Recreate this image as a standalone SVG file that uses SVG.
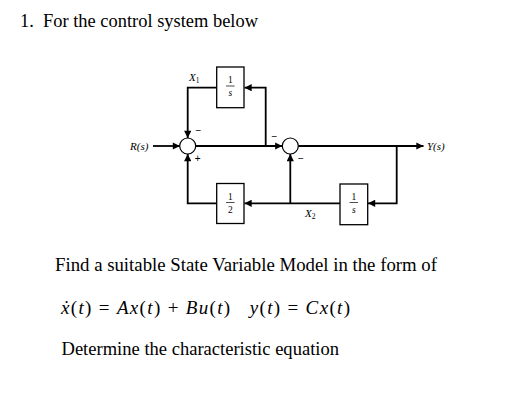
<svg xmlns="http://www.w3.org/2000/svg" width="514" height="404" viewBox="0 0 514 404">
<style>
.txt{font-family:"Liberation Serif","Times New Roman",serif;fill:#000}
.t{font-size:18.6px}
.lbl{font-size:11px;font-style:italic}
.frac{font-size:9.5px;text-anchor:middle}
.blk{fill:#fff;stroke:#000;stroke-width:1.3}
.sum{fill:#fff;stroke:#000;stroke-width:1.2}
.w{fill:none;stroke:#000;stroke-width:1.8}
.sg{font-family:"Liberation Sans",Arial,sans-serif;font-size:10px;fill:#000;text-anchor:middle}
</style>
<defs>
<marker id="ah" viewBox="0 0 10 10" refX="10" refY="5" markerWidth="4.4" markerHeight="4" orient="auto" markerUnits="strokeWidth">
<path d="M0,0 L10,5 L0,10 z" fill="#000"/>
</marker>
</defs>
<rect width="514" height="404" fill="#fff"/>
<text class="txt t" x="20" y="26.5" xml:space="preserve" textLength="238" lengthAdjust="spacingAndGlyphs">1.  For the control system below</text>

<g id="connectors">
<path class="w" d="M153,146 H180" marker-end="url(#ah)"/>
<path class="w" d="M195.7,146 H282.3" marker-end="url(#ah)"/>
<path class="w" d="M265.7,146 V87.7 H244.5" marker-end="url(#ah)"/>
<path class="w" d="M216.7,87.7 H187.7 V138" marker-end="url(#ah)"/>
<path class="w" d="M298.3,146 H423.5" marker-end="url(#ah)"/>
<path class="w" d="M396.7,146 V203.3 H368" marker-end="url(#ah)"/>
<path class="w" d="M340,203.3 H244.5" marker-end="url(#ah)"/>
<path class="w" d="M290.3,203.3 V154" marker-end="url(#ah)"/>
<path class="w" d="M216.7,203.3 H187.7 V154" marker-end="url(#ah)"/>
</g>

<g id="sum1">
<circle class="sum" cx="187.7" cy="146" r="8"/>
<text class="sg" x="198.5" y="134">−</text>
<text class="sg" x="197.7" y="162">+</text>
</g>
<g id="sum2">
<circle class="sum" cx="290.3" cy="146" r="8"/>
<text class="sg" x="274.5" y="140">−</text>
<text class="sg" x="301" y="162">−</text>
</g>

<g id="int1">
<rect class="blk" x="216.7" y="67" width="27.3" height="40.7"/>
<text class="txt frac" x="230.3" y="83">1</text>
<line x1="226" y1="86" x2="234.6" y2="86" stroke="#000" stroke-width="0.7"/>
<text class="txt frac" x="230.3" y="96" font-style="italic">s</text>
</g>
<g id="gain">
<rect class="blk" x="216.7" y="183.5" width="27.3" height="40"/>
<text class="txt frac" x="230.3" y="199.5">1</text>
<line x1="226" y1="202.5" x2="234.6" y2="202.5" stroke="#000" stroke-width="0.7"/>
<text class="txt frac" x="230.3" y="213">2</text>
</g>
<g id="int2">
<rect class="blk" x="340" y="184" width="27.7" height="40.7"/>
<text class="txt frac" x="353.8" y="199.5">1</text>
<line x1="349.5" y1="202.5" x2="358" y2="202.5" stroke="#000" stroke-width="0.7"/>
<text class="txt frac" x="353.8" y="213" font-style="italic">s</text>
</g>

<g id="labels">
<text class="txt lbl" x="130" y="149.8">R(s)</text>
<text class="txt lbl" x="427" y="149.8">Y(s)</text>
<text class="txt lbl" x="189" y="81">X<tspan font-size="7.5" dy="2" font-style="normal">1</tspan></text>
<text class="txt lbl" x="305" y="216.5">X<tspan font-size="7.5" dy="2" font-style="normal">2</tspan></text>
</g>

<text class="txt t" x="55" y="270.5" textLength="382" lengthAdjust="spacingAndGlyphs">Find a suitable State Variable Model in the form of</text>
<text class="txt" font-size="19" x="61" y="313.5" xml:space="preserve" textLength="289" lengthAdjust="spacing"><tspan font-style="italic">ẋ</tspan>(<tspan font-style="italic">t</tspan>) = <tspan font-style="italic">Ax</tspan>(<tspan font-style="italic">t</tspan>) + <tspan font-style="italic">Bu</tspan>(<tspan font-style="italic">t</tspan>)   <tspan font-style="italic">y</tspan>(<tspan font-style="italic">t</tspan>) = <tspan font-style="italic">Cx</tspan>(<tspan font-style="italic">t</tspan>)</text>
<text class="txt t" x="61.5" y="355" textLength="277.5" lengthAdjust="spacingAndGlyphs">Determine the characteristic equation</text>
</svg>
